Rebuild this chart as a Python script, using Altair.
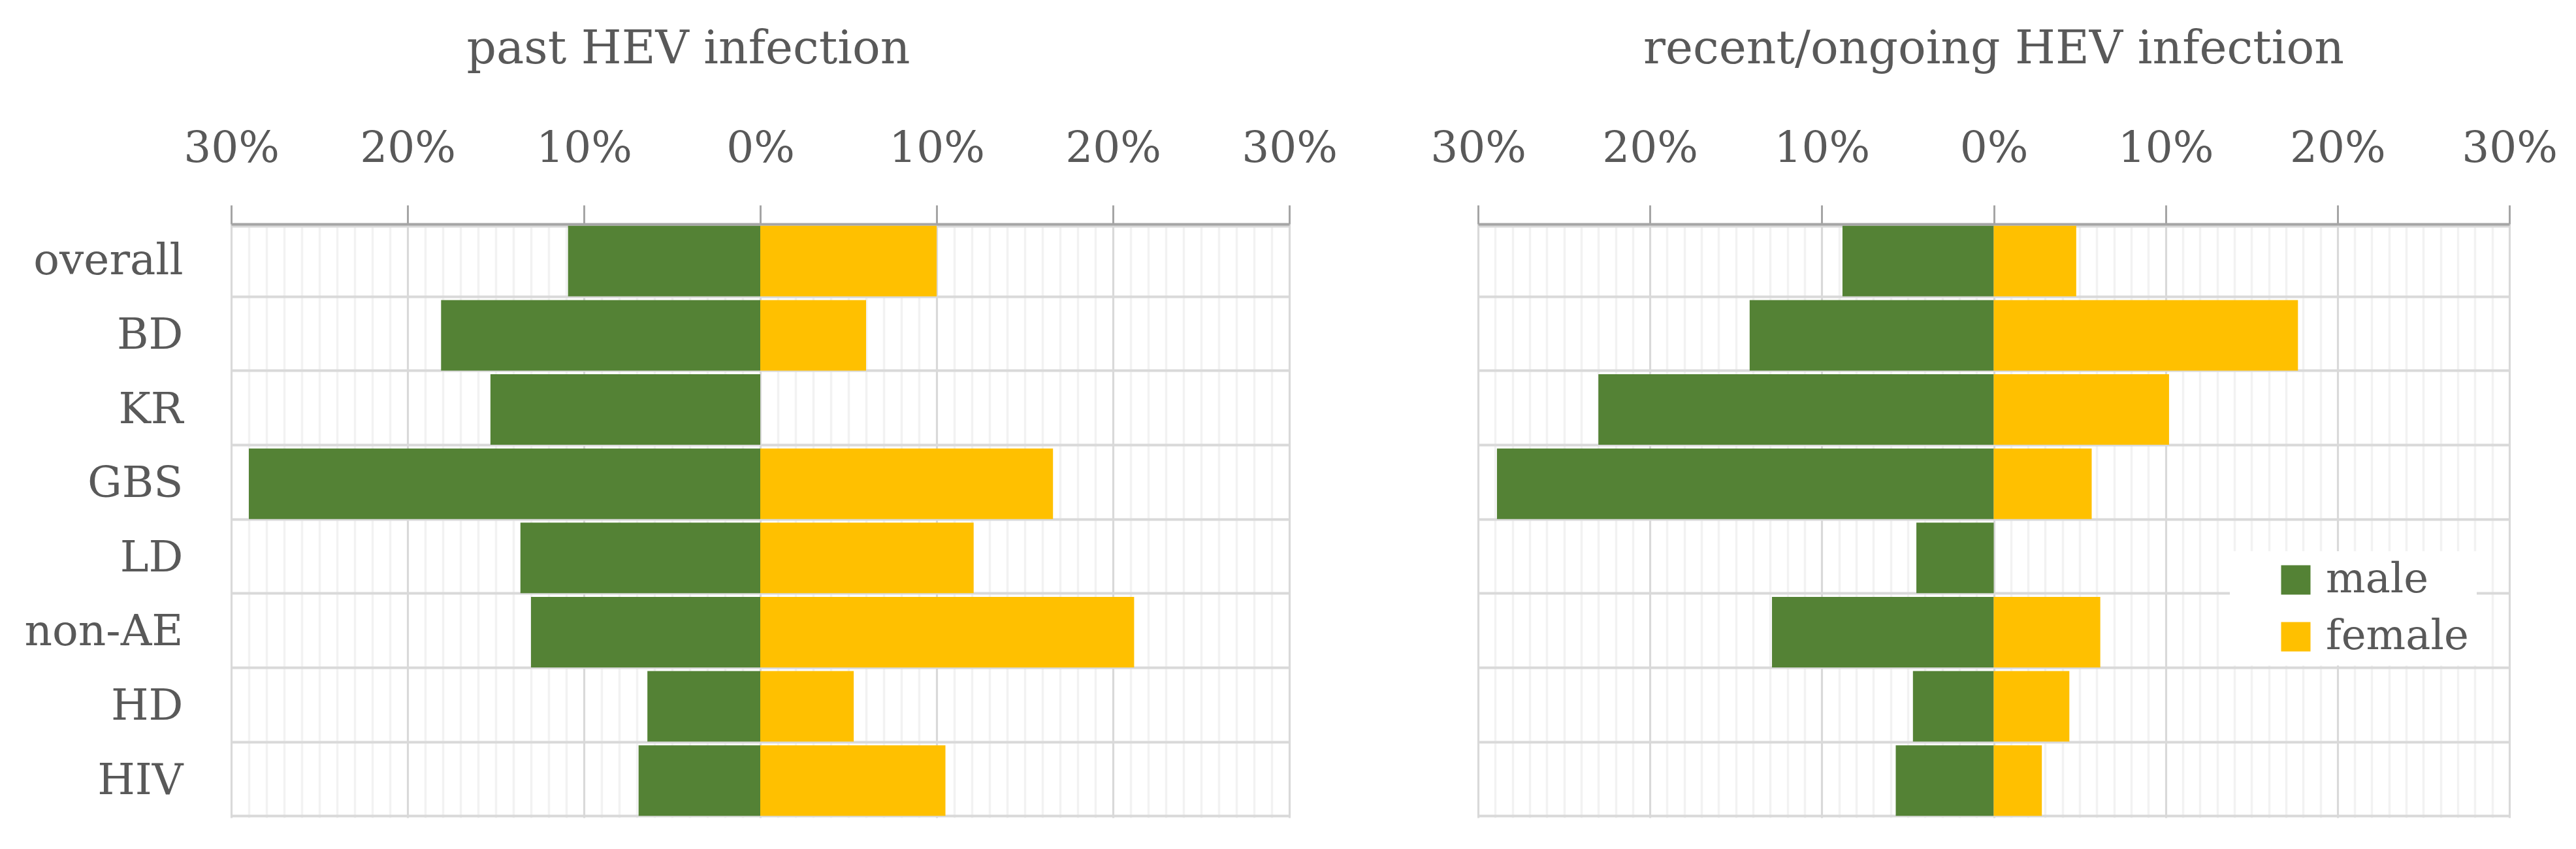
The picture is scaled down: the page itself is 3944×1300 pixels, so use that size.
import altair as alt
import pandas as pd

categories = ["overall", "BD", "KR", "GBS", "LD", "non-AE", "HD", "HIV"]
sexes = ["male", "female"]
colors = ["#548235", "#FFC000"]

past_male = [10.9, 18.1, 15.3, 29.0, 13.6, 13.0, 6.4, 6.9]
past_female = [10.0, 6.0, 0.0, 16.6, 12.1, 21.2, 5.3, 10.5]
recent_male = [8.8, 14.2, 23.0, 28.9, 4.5, 12.9, 4.7, 5.7]
recent_female = [4.8, 17.7, 10.2, 5.7, 0.0, 6.2, 4.4, 2.8]

major_ticks = [-30, -20, -10, 0, 10, 20, 30]
minor_ticks = list(range(-30, 31))

FONT = "DejaVu Serif"
TEXT = "#595959"


def make_df(male, female):
    rows = []
    for c, m, f in zip(categories, male, female):
        rows.append({"category": c, "sex": "male", "value": -m})
        rows.append({"category": c, "sex": "female", "value": f})
    return pd.DataFrame(rows)


def panel(df, title, width, show_y, legend, title_dx):
    xscale = alt.Scale(domain=[-30, 30], nice=False)
    y_enc = alt.Y(
        "category:N",
        sort=categories,
        scale=alt.Scale(paddingInner=0.05, paddingOuter=0.025),
        axis=alt.Axis(
            tickBand="extent", grid=True, gridColor="#d9d9d9", gridWidth=4,
            ticks=False, domain=False, labels=show_y, labelFont=FONT,
            labelFontSize=66, labelColor=TEXT, labelPadding=74, labelLimit=0,
            title=None,
        ),
    )
    minor = alt.Chart(df).mark_bar(opacity=0).encode(
        x=alt.X(
            "value:Q", stack=None, scale=xscale,
            axis=alt.Axis(
                orient="bottom", values=minor_ticks, grid=True,
                gridColor="#f2f2f2", gridWidth=3.5, labels=False, ticks=False,
                domain=False, title=None,
            ),
        ),
        y=y_enc,
    )
    major = alt.Chart(df).mark_bar().encode(
        x=alt.X(
            "value:Q", stack=None, scale=xscale,
            axis=alt.Axis(
                orient="top", values=major_ticks, grid=True,
                gridColor="#d9d9d9", gridWidth=3, domainColor="#a5a5a5",
                domainWidth=4, tickColor="#a5a5a5", tickWidth=3, tickSize=29,
                labelExpr="abs(datum.value) + '%'", labelFont=FONT,
                labelFontSize=66, labelColor=TEXT, labelPadding=67,
                labelBaseline="alphabetic", labelFlush=False, labelLimit=0,
                labelOverlap=False, title=None,
            ),
        ),
        y=y_enc,
        color=alt.Color(
            "sex:N", scale=alt.Scale(domain=sexes, range=colors), legend=legend
        ),
    )
    return (
        alt.layer(minor, major)
        .resolve_axis(x="independent")
        .properties(
            width=width,
            height=909,
            title=alt.TitleParams(
                title, anchor="middle", frame="group", dx=title_dx,
                font=FONT, fontSize=71, color=TEXT, fontWeight="normal",
                offset=82,
            ),
        )
    )


legend = alt.Legend(
    orient="none", legendX=1151, legendY=501, fillColor="white", padding=12,
    symbolType="square", symbolSize=2025, symbolStrokeWidth=0,
    symbolOffset=57, labelOffset=14, rowPadding=23, labelFont=FONT,
    labelFontSize=64, labelColor=TEXT, labelLimit=0, title=None,
)

left = panel(make_df(past_male, past_female), "past HEV infection", 1620,
             True, None, -110)
right = panel(make_df(recent_male, recent_female),
              "recent/ongoing HEV infection", 1579, False, legend, 0)

chart = (
    alt.hconcat(left, right, spacing=289, bounds="flush")
    .resolve_legend(color="independent")
    .properties(padding={"left": 28, "top": 31, "right": 5, "bottom": 5})
    .configure(background="white")
    .configure_view(stroke="transparent")
)

chart.save("out.html", embed_options={"renderer": "svg", "actions": False})
